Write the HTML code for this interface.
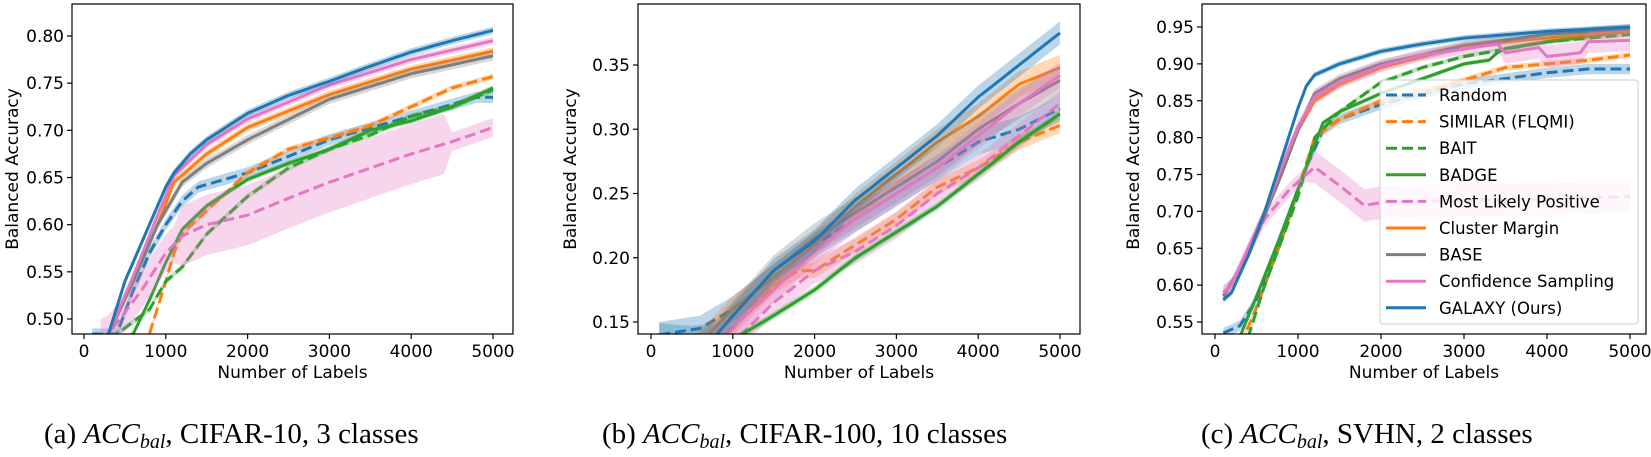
<!DOCTYPE html>
<html><head><meta charset="utf-8">
<style>
html,body{margin:0;padding:0;background:#fff;}
body{width:1651px;height:451px;overflow:hidden;position:relative;}
svg{position:absolute;left:0;top:0;}
.cap{position:absolute;top:419px;font-family:"Liberation Serif",serif;font-size:29px;line-height:30px;white-space:nowrap;color:#000;}
.cap i{font-style:italic;}
.cap sub{font-size:20px;font-style:italic;vertical-align:-5px;}
</style></head><body>
<svg id="s" width="1651" height="451" xmlns="http://www.w3.org/2000/svg" font-family="DejaVu Sans, Liberation Sans, sans-serif"></svg>
<div class="cap" style="left:44px">(a) <i>ACC</i><sub>bal</sub>, CIFAR-10, 3 classes</div>
<div class="cap" style="left:602px">(b) <i>ACC</i><sub>bal</sub>, CIFAR-100, 10 classes</div>
<div class="cap" style="left:1201px">(c) <i>ACC</i><sub>bal</sub>, SVHN, 2 classes</div>
<script>
const S=document.getElementById('s');
const C={b:'#1f77b4',o:'#ff7f0e',g:'#2ca02c',p:'#e377c2',k:'#7f7f7f'};
const NS='http://www.w3.org/2000/svg';
function el(t,a,txt,par){const e=document.createElementNS(NS,t);for(const k in a)e.setAttribute(k,a[k]);if(txt!==undefined&&txt!==null)e.textContent=txt;(par||S).appendChild(e);return e;}
function interp(pts){const out=[];for(let x=100;x<=5000;x+=100){if(x<pts[0][0]||x>pts[pts.length-1][0])continue;let i=0;while(i<pts.length-2&&pts[i+1][0]<x)i++;const a=pts[i],b=pts[i+1];let t=(x-a[0])/(b[0]-a[0]);out.push([x,a[1]+(b[1]-a[1])*Math.max(0,Math.min(1,t))]);}return out;}
function panel(P){
 const X=v=>P.x0+(v/5000)*(P.x5-P.x0);
 const Y=v=>P.ytick[1]+(v-P.ytick[0])*(P.ytick[3]-P.ytick[1])/(P.ytick[2]-P.ytick[0]);
 const id='c'+P.L;
 const d=el('clipPath',{id:id});
 el('rect',{x:P.L,y:P.T,width:P.R-P.L,height:P.B-P.T},null,d);
 const g=el('g',{'clip-path':'url(#'+id+')'});
 for(const s of P.series){
  const pts=interp(s.p);const w=s.w||0.005;const W=x=>typeof w==='function'?w(x):w;
  const up=pts.map(q=>X(q[0]).toFixed(1)+','+Y(q[1]+W(q[0])).toFixed(1));
  const dn=pts.slice().reverse().map(q=>X(q[0]).toFixed(1)+','+Y(q[1]-W(q[0])).toFixed(1));
  el('polygon',{points:up.concat(dn).join(' '),fill:C[s.c],'fill-opacity':0.3},null,g);
  const a={points:pts.map(q=>X(q[0]).toFixed(1)+','+Y(q[1]).toFixed(1)).join(' '),fill:'none',stroke:C[s.c],'stroke-width':3,'stroke-linejoin':'round'};
  if(s.d)a['stroke-dasharray']='11 5';
  el('polyline',a,null,g);
 }
 el('rect',{x:P.L,y:P.T,width:P.R-P.L,height:P.B-P.T,fill:'none',stroke:'#000','stroke-width':1.2});
 for(let v=0;v<=5000;v+=1000){const x=X(v);el('line',{x1:x,x2:x,y1:P.B,y2:P.B+5,stroke:'#000','stroke-width':1.2});el('text',{x:x,y:357,'font-size':17,'text-anchor':'middle'},String(v));}
 for(const v of P.yt){const y=Y(v);el('line',{x1:P.L-5,x2:P.L,y1:y,y2:y,stroke:'#000','stroke-width':1.2});el('text',{x:P.L-8,y:y+6,'font-size':17,'text-anchor':'end'},v.toFixed(2));}
 el('text',{x:(P.L+P.R)/2,y:378,'font-size':17,'text-anchor':'middle'},'Number of Labels');
 el('text',{x:0,y:0,'font-size':17,'text-anchor':'middle',transform:'translate('+(P.yl+6)+','+((P.T+P.B)/2)+') rotate(-90)'},'Balanced Accuracy');
}
// Panel A
panel({L:72,R:513,T:4,B:334,x0:84,x5:493,ytick:[0.80,36,0.50,319],yt:[0.50,0.55,0.60,0.65,0.70,0.75,0.80],yl:12,
series:[
{c:'b',d:1,p:[[100,0.484],[400,0.484],[600,0.53],[800,0.57],[1000,0.6],[1200,0.625],[1400,0.64],[2000,0.655],[3000,0.69],[4000,0.715],[4800,0.735],[5000,0.735]],w:0.006},
{c:'o',d:1,p:[[700,0.47],[800,0.484],[1000,0.54],[1100,0.57],[1200,0.59],[1500,0.615],[2000,0.655],[2500,0.68],[3000,0.692],[3500,0.705],[4000,0.725],[4500,0.745],[5000,0.757]],w:0.003},
{c:'g',d:1,p:[[300,0.48],[400,0.484],[800,0.51],[1000,0.54],[1200,0.555],[1500,0.59],[2000,0.63],[2500,0.66],[3000,0.68],[3500,0.695],[4000,0.715],[4500,0.725],[5000,0.743]],w:0.003},
{c:'g',p:[[500,0.48],[600,0.484],[800,0.52],[1000,0.56],[1200,0.595],[1500,0.62],[2000,0.648],[2500,0.665],[3000,0.68],[3500,0.7],[4000,0.71],[4500,0.725],[5000,0.745]],w:0.003},
{c:'p',d:1,p:[[200,0.48],[300,0.484],[700,0.53],[1000,0.57],[1200,0.588],[1500,0.6],[2000,0.61],[2500,0.628],[3000,0.645],[3500,0.66],[4000,0.675],[4500,0.688],[5000,0.703]],w:x=>x<1200?0.02:x<4500?0.032:0.01},
{c:'o',p:[[200,0.47],[300,0.484],[600,0.54],[900,0.6],[1100,0.645],[1500,0.675],[2000,0.703],[3000,0.738],[4000,0.765],[5000,0.784]],w:0.004},
{c:'k',p:[[200,0.47],[300,0.484],[600,0.54],[900,0.6],[1200,0.645],[1500,0.665],[2000,0.69],[3000,0.733],[4000,0.76],[5000,0.779]],w:0.005},
{c:'p',p:[[200,0.47],[300,0.484],[600,0.545],[900,0.61],[1100,0.652],[1500,0.685],[2000,0.712],[3000,0.748],[4000,0.775],[5000,0.795]],w:0.004},
{c:'b',p:[[200,0.47],[300,0.484],[500,0.54],[800,0.6],[1000,0.64],[1100,0.655],[1300,0.675],[1500,0.69],[2000,0.718],[2500,0.737],[3000,0.752],[3500,0.768],[4000,0.783],[4500,0.795],[5000,0.806]],w:0.004}
]});
// Panel B
panel({L:638,R:1080,T:4,B:334,x0:651,x5:1060,ytick:[0.35,65,0.15,322],yt:[0.15,0.20,0.25,0.30,0.35],yl:570,
series:[
{c:'b',d:1,p:[[100,0.14],[600,0.145],[1000,0.16],[1500,0.185],[2000,0.21],[2500,0.23],[3000,0.25],[3500,0.27],[4000,0.29],[4500,0.3],[5000,0.316]],w:0.01},
{c:'o',d:1,p:[[800,0.135],[1000,0.145],[1500,0.178],[1800,0.19],[2000,0.19],[2500,0.21],[3000,0.23],[3500,0.255],[4000,0.27],[4500,0.29],[5000,0.303]],w:0.006},
{c:'p',d:1,p:[[900,0.135],[1100,0.14],[1500,0.165],[2000,0.19],[2500,0.205],[3000,0.225],[3500,0.25],[4000,0.27],[4500,0.295],[5000,0.32]],w:0.01},
{c:'g',p:[[900,0.13],[1100,0.14],[1500,0.155],[2000,0.175],[2500,0.2],[3000,0.22],[3500,0.24],[4000,0.265],[4500,0.29],[5000,0.312]],w:0.003},
{c:'o',p:[[500,0.13],[700,0.14],[1000,0.16],[1500,0.185],[2000,0.21],[2500,0.24],[3000,0.265],[3500,0.29],[4000,0.31],[4500,0.335],[5000,0.348]],w:0.01},
{c:'k',p:[[600,0.13],[800,0.14],[1500,0.19],[2000,0.215],[2500,0.235],[3000,0.255],[3500,0.275],[4000,0.3],[4500,0.32],[5000,0.338]],w:0.012},
{c:'p',p:[[700,0.13],[900,0.14],[1500,0.175],[2000,0.205],[2500,0.23],[3000,0.25],[3500,0.27],[4000,0.295],[4500,0.32],[5000,0.342]],w:0.01},
{c:'b',p:[[100,0.14],[500,0.138],[800,0.14],[1000,0.155],[1500,0.19],[2000,0.213],[2500,0.245],[3000,0.27],[3500,0.295],[4000,0.325],[4500,0.35],[5000,0.375]],w:0.009}
]});
// Panel C
panel({L:1202,R:1646,T:4,B:334,x0:1215,x5:1630,ytick:[0.95,27,0.55,322],yt:[0.55,0.60,0.65,0.70,0.75,0.80,0.85,0.90,0.95],yl:1133,
series:[
{c:'b',d:1,p:[[100,0.535],[300,0.545],[500,0.58],[700,0.64],[900,0.7],[1100,0.76],[1300,0.81],[1500,0.825],[2000,0.845],[2500,0.86],[3000,0.873],[3500,0.88],[4000,0.888],[4500,0.893],[5000,0.893]],w:0.007},
{c:'o',d:1,p:[[300,0.52],[350,0.53],[500,0.57],[800,0.66],[1000,0.73],[1200,0.8],[1500,0.825],[2000,0.85],[2500,0.86],[3000,0.878],[3500,0.895],[4000,0.9],[4500,0.905],[5000,0.912]],w:0.004},
{c:'g',d:1,p:[[300,0.51],[400,0.53],[600,0.6],[800,0.66],[1000,0.72],[1200,0.8],[1500,0.835],[2000,0.875],[2500,0.895],[3000,0.91],[3400,0.918],[4000,0.93],[5000,0.94]],w:0.003},
{c:'g',p:[[200,0.51],[300,0.53],[500,0.585],[800,0.67],[1000,0.73],[1100,0.76],[1300,0.82],[1500,0.835],[2000,0.86],[2500,0.88],[3000,0.9],[3300,0.905],[3450,0.92],[4000,0.93],[5000,0.945]],w:0.003},
{c:'p',d:1,p:[[100,0.59],[200,0.6],[400,0.645],[600,0.69],[900,0.73],[1200,0.76],[1500,0.735],[1800,0.708],[2000,0.712],[3000,0.715],[4000,0.717],[5000,0.72]],w:x=>x<1200?0.01:0.022},
{c:'o',p:[[100,0.585],[400,0.64],[800,0.75],[1000,0.81],[1200,0.85],[1500,0.872],[2000,0.895],[3000,0.925],[4000,0.935],[5000,0.945]],w:0.005},
{c:'k',p:[[100,0.585],[400,0.64],[800,0.75],[1000,0.81],[1200,0.86],[1500,0.88],[2000,0.9],[3000,0.925],[4000,0.94],[5000,0.948]],w:0.006},
{c:'p',p:[[100,0.59],[200,0.6],[400,0.65],[600,0.7],[800,0.76],[1000,0.815],[1200,0.855],[1500,0.875],[2000,0.897],[2500,0.912],[3000,0.92],[3400,0.927],[3500,0.915],[3900,0.922],[4000,0.91],[4400,0.915],[4500,0.93],[5000,0.932]],w:x=>x>3400?0.015:0.008},
{c:'b',p:[[100,0.58],[200,0.59],[400,0.64],[600,0.7],[800,0.77],[1000,0.84],[1100,0.87],[1200,0.885],[1500,0.9],[2000,0.917],[2500,0.927],[3000,0.935],[4000,0.944],[5000,0.95]],w:0.004}
]});
// Legend
el('rect',{x:1380,y:80,width:258,height:244,rx:3,fill:'#fff','fill-opacity':0.8,stroke:'#ccc','stroke-width':1});
const L=[['Random','b',1],['SIMILAR (FLQMI)','o',1],['BAIT','g',1],['BADGE','g',0],['Most Likely Positive','p',1],['Cluster Margin','o',0],['BASE','k',0],['Confidence Sampling','p',0],['GALAXY (Ours)','b',0]];
L.forEach((e,i)=>{const y=95+i*26.6;const a={x1:1386,x2:1426,y1:y,y2:y,stroke:C[e[1]],'stroke-width':3};if(e[2])a['stroke-dasharray']='11 5';el('line',a);el('text',{x:1439,y:y+6,'font-size':16.5},e[0]);});
</script>
</body></html>
